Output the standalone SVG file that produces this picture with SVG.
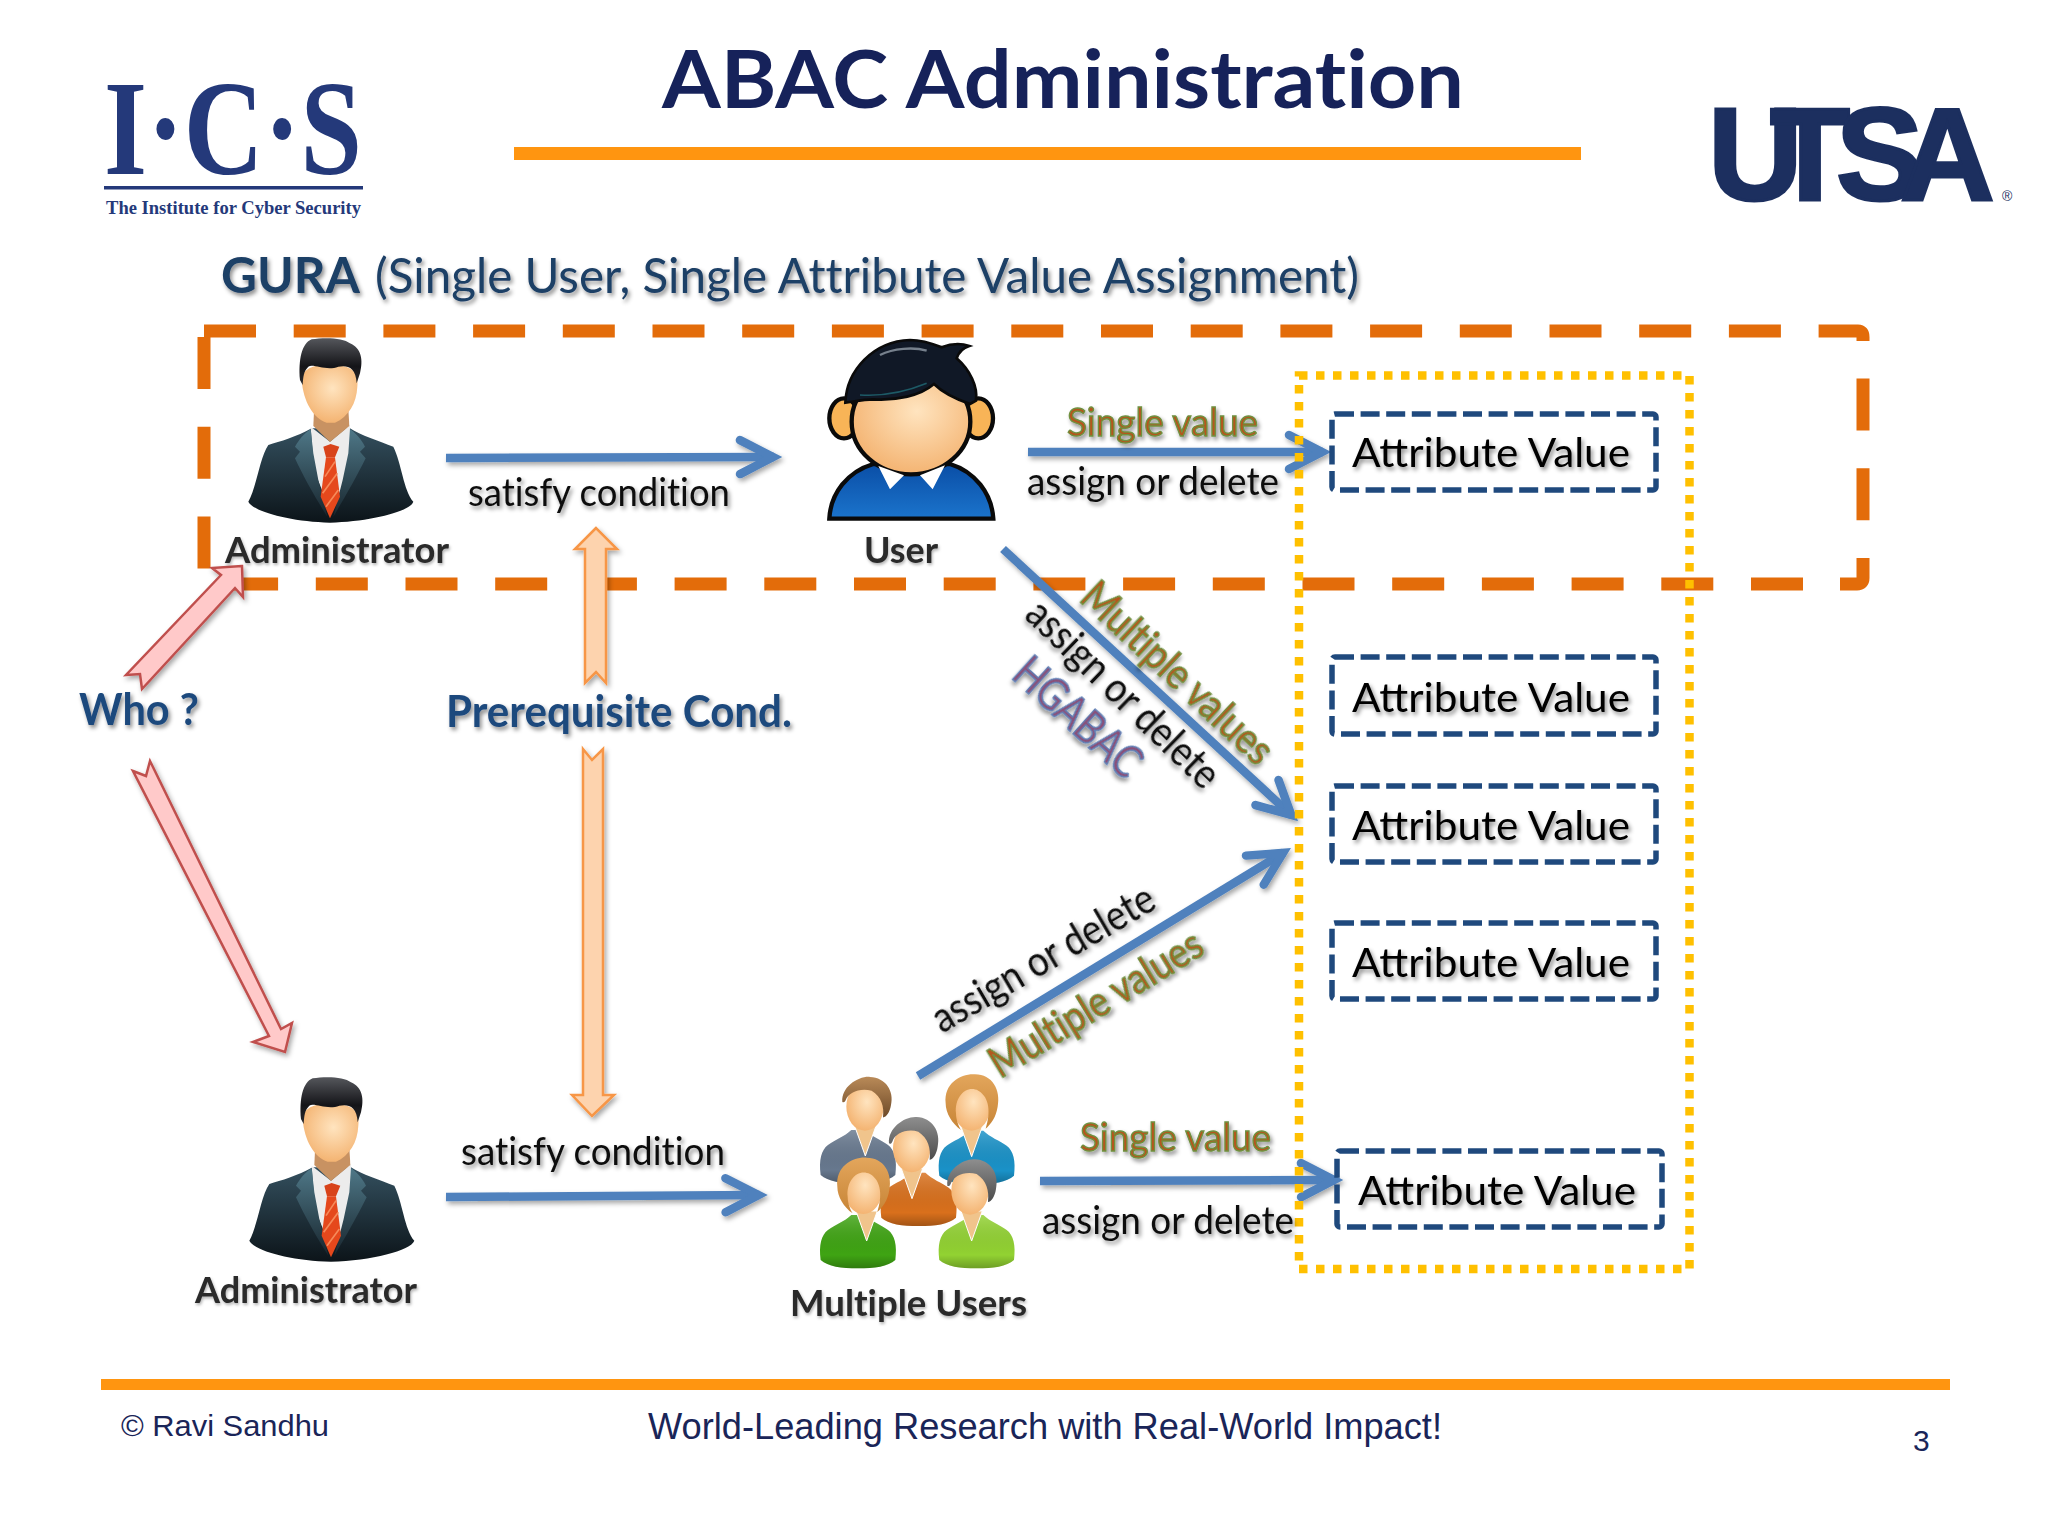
<svg xmlns="http://www.w3.org/2000/svg" xmlns:xlink="http://www.w3.org/1999/xlink" width="2048" height="1536" viewBox="0 0 2048 1536">
<style>
text{font-family:"Lato","Liberation Sans",sans-serif;font-variant-ligatures:none}
.lb{font-size:39px;fill:#111;filter:url(#ts)}
.lr{font-size:42px;fill:#111;filter:url(#ts)}
.nm{font-size:36px;font-weight:700;fill:#2a2a2a;filter:url(#ts2)}
.hd{font-size:43px;font-weight:700;fill:#1f497d;filter:url(#ts)}
.av{font-size:41px;fill:#000;filter:url(#ts);font-variant-ligatures:normal}
.wa{font-size:39px;fill:#b5561c;stroke:#6f9040;stroke-width:1.4px;filter:url(#ts)}
.wr{font-size:42px;fill:#b5561c;stroke:#6f9040;stroke-width:1.6px;filter:url(#ts)}
.ar{fill:none;stroke:#4f81bd;stroke-width:8.5px;marker-end:url(#chev);filter:url(#as)}
.box{fill:none;stroke:#1f497d;stroke-width:5.5px;stroke-dasharray:19 6.6}
.red{fill:#ffc9c9;stroke:#c0504d;stroke-width:2.5px;filter:url(#as)}
.org{fill:#fdd3ae;stroke:#f79646;stroke-width:2.5px;filter:url(#as)}
.bar{fill:#ff9510}
.ft{font-family:"Liberation Sans",sans-serif;fill:#1a2558}
.face{fill:url(#fg)}
.shade{fill:url(#sh)}
.frm{fill:none;stroke:#e36c0a;stroke-width:13px;stroke-dasharray:52 37.7}
</style>
<defs>
<filter id="ts" x="-10%" y="-30%" width="120%" height="170%"><feDropShadow dx="2" dy="3" stdDeviation="2" flood-color="#000" flood-opacity=".45"/></filter>
<filter id="ts2" x="-10%" y="-30%" width="120%" height="170%"><feDropShadow dx="1" dy="2" stdDeviation="1.5" flood-color="#000" flood-opacity=".3"/></filter>
<filter id="as" filterUnits="userSpaceOnUse" x="0" y="0" width="2048" height="1536"><feDropShadow dx="2" dy="3" stdDeviation="2.5" flood-color="#000" flood-opacity=".35"/></filter>
<marker id="chev" markerUnits="userSpaceOnUse" viewBox="-42 -24 54 48" refX="1" refY="0" markerWidth="54" markerHeight="48" orient="auto"><path d="M-33 -17L0 0L-33 17" fill="none" stroke="#4f81bd" stroke-width="8.5" stroke-linecap="round"/></marker>
<linearGradient id="suit" x1="0" y1="0" x2="0" y2="1"><stop offset="0" stop-color="#34505f"/><stop offset="1" stop-color="#0c1419"/></linearGradient>
<linearGradient id="lap" x1="0" y1="0" x2="0" y2="1"><stop offset="0" stop-color="#4f7888"/><stop offset="1" stop-color="#18262e"/></linearGradient>
<linearGradient id="hair" x1="0" y1="0" x2="0" y2="1"><stop offset="0" stop-color="#55575c"/><stop offset=".6" stop-color="#141418"/><stop offset="1" stop-color="#2a2a2e"/></linearGradient>
<radialGradient id="fg" cx=".55" cy=".4" r=".65"><stop offset="0" stop-color="#ffe4bf"/><stop offset="1" stop-color="#f3b06c"/></radialGradient>
<linearGradient id="sh" x1="0" y1="0" x2="0" y2="1"><stop offset="0" stop-color="#fff" stop-opacity=".18"/><stop offset=".75" stop-color="#000" stop-opacity="0"/><stop offset="1" stop-color="#000" stop-opacity=".25"/></linearGradient>
<linearGradient id="ublue" x1="0" y1="0" x2="0" y2="1"><stop offset="0" stop-color="#0a4ea6"/><stop offset="1" stop-color="#1b74cc"/></linearGradient>
<linearGradient id="blond" x1="0" y1="0" x2="0" y2="1"><stop offset="0" stop-color="#e3a65c"/><stop offset="1" stop-color="#c78436"/></linearGradient>
<linearGradient id="gray" x1="0" y1="0" x2="0" y2="1"><stop offset="0" stop-color="#8e8e8e"/><stop offset="1" stop-color="#4c4c4c"/></linearGradient>
<linearGradient id="brown" x1="0" y1="0" x2="0" y2="1"><stop offset="0" stop-color="#b98a58"/><stop offset="1" stop-color="#6e4a28"/></linearGradient>
<path id="pb" d="M-112 135C-118 90-110 60-90 45C-70 30-40 20-20 0L20 0C40 20 70 30 90 45C110 60 118 90 112 135C90 155 50 160 0 160C-50 160-90 155-112 135Z"/>
<path id="pn" d="M-32 -12L0 78L32 -12Z" fill="#f0c48c" stroke="#fff" stroke-width="3"/>
<path id="hb" d="M-78 -10C-84 -72-30 -100 10 -97C62 -97 88 -50 78 0C73 32 58 52 42 66C57 20 55 -28 20 -48C-15 -66-52 -30-47 20C-47 42-37 62-32 70C-58 52-78 20-78 -10Z"/>
<path id="hg" d="M-68 -15C-72 -62-20 -97 15 -94C62 -92 88 -50 78 -5C75 17 64 34 54 34C58 0 50 -30 20 -50C-15 -60-50 -45-58 -20C-60 -15-64 -12-68 -15Z"/>
<g id="admin">
<path d="M85 515C110 470 120 380 145 345C180 335 230 320 275 295L390 295C420 315 480 335 520 350C545 400 550 480 580 515C570 545 450 575 330 578C210 575 100 545 85 515Z" fill="url(#suit)"/>
<path d="M272 290L330 335L390 285L390 345L380 450L330 540L290 440L278 370Z" fill="#ececec"/>
<path d="M272 297C240 320 232 340 225 350L240 365L225 385C250 440 290 510 322 560L295 450L280 370Z" fill="url(#lap)"/>
<path d="M390 297C420 320 430 340 435 350L420 365L437 385C410 440 370 510 340 560L368 450L385 370Z" fill="url(#lap)"/>
<path d="M310 350L332 342L358 350L345 382L318 382Z" fill="#d8431a"/>
<path d="M318 382L345 382L360 500L330 565L302 500Z" fill="#e5481c"/>
<path d="M315 440L345 395M308 490L352 430M318 530L355 480" stroke="#f58a5a" stroke-width="5" fill="none"/>
<path d="M282 245L280 288L330 336L388 288L385 235Z" fill="#c89262"/>
<path d="M245 150C245 110 300 100 330 110C380 100 420 120 412 170C410 220 385 260 345 278L320 278C280 265 250 215 245 150Z" class="face"/>
<path d="M240 150C235 90 245 40 275 28C310 22 370 22 390 40C425 55 430 90 420 130L410 160C408 110 380 105 355 110C320 125 280 100 265 110C250 125 250 140 248 165Z" fill="url(#hair)"/>
</g>
</defs>
<rect width="2048" height="1536" fill="#fff"/>

<g id="logo-ics" fill="#24397a">
<text x="233" y="174" text-anchor="middle" font-size="136" font-weight="700" textLength="258" lengthAdjust="spacingAndGlyphs" style="font-family:'Liberation Serif',serif">I·C·S</text>
<rect x="104" y="186" width="259" height="3.5"/>
<text x="106" y="214" font-size="18" font-weight="700" textLength="255" lengthAdjust="spacingAndGlyphs" style="font-family:'Liberation Serif',serif">The Institute for Cyber Security</text>
</g>
<g id="logo-utsa" fill="#1c2f5f" stroke="#1c2f5f">
<text x="1708 1770 1836 1900" y="200" font-size="131" font-weight="700" stroke-width="3" style="font-family:'Liberation Sans',sans-serif">UTSA</text>
<text x="2002" y="201" font-size="14" stroke="none" style="font-family:'Liberation Sans',sans-serif">®</text>
</g>
<g id="title">
<text x="662" y="108" font-size="80" font-weight="700" fill="#16225a" textLength="802" lengthAdjust="spacingAndGlyphs">ABAC Administration</text>
<rect class="bar" x="514" y="147" width="1067" height="13"/>
</g>
<g id="subtitle" fill="#1f3f66" filter="url(#ts)">
<text x="221" y="293" font-size="49" font-weight="700" textLength="139" lengthAdjust="spacingAndGlyphs">GURA</text>
<text x="375" y="293" font-size="48" textLength="984" lengthAdjust="spacingAndGlyphs">(Single User, Single Attribute Value Assignment)</text>
</g>

<g id="single-user-frame">
<path class="frm" d="M204 331H1858Q1863 331 1863 337V578Q1863 584 1857 584H1840"/>
<path class="frm" d="M1803 584H204V331"/>
</g>

<use id="admin-top" xlink:href="#admin" href="#admin" transform="translate(220 330) scale(.3333)"/>
<use id="admin-bottom" xlink:href="#admin" href="#admin" transform="translate(221 1069) scale(.3333)"/>

<g id="user" transform="translate(810 330) scale(.3333)" stroke="#0a0a0a" stroke-width="13">
<path d="M58 566C62 490 112 425 190 402L420 402C495 425 545 490 550 566Z" fill="url(#ublue)"/>
<ellipse cx="102" cy="265" rx="44" ry="60" fill="#f8b457"/>
<ellipse cx="505" cy="265" rx="44" ry="60" fill="#f8b457"/>
<ellipse cx="303" cy="275" rx="178" ry="158" class="face"/>
<path d="M205 408L240 478L282 436Z M330 436L368 478L405 406Z" fill="#fff" stroke="none"/>
<path d="M106 218C110 120 190 34 300 30C340 30 370 42 395 52C420 42 450 38 478 48C455 55 445 70 440 85C480 120 504 170 498 212L480 222C440 208 400 190 372 162C330 198 260 212 190 208C160 208 130 215 106 218Z" fill="#101826" stroke-width="8"/>
<path d="M150 195C230 200 290 185 350 160" fill="none" stroke="#1d5a66" stroke-width="5"/>
<path d="M210 75C250 55 310 50 350 62" fill="none" stroke="#76808c" stroke-width="7"/>
</g>

<g id="multiple-users" transform="translate(800 1060) scale(.3333)">
<g transform="translate(174 210)"><use href="#pb" fill="#67788e"/><use href="#pb" class="shade"/><use href="#pn" x="22"/></g>
<g transform="translate(195 140)"><ellipse rx="56" ry="72" class="face"/><use href="#hg" fill="url(#brown)" transform="scale(1 .95)"/></g>
<g transform="translate(530 212)"><use href="#pb" fill="#1a92c8"/><use href="#pb" class="shade"/><use href="#pn" x="-15"/></g>
<g transform="translate(515 140)"><ellipse rx="56" ry="72" class="face"/><use href="#hb" fill="url(#blond)"/></g>
<g transform="translate(356 338)"><use href="#pb" fill="#d9701c"/><use href="#pb" class="shade"/><use href="#pn" x="-20"/></g>
<g transform="translate(335 265)"><ellipse rx="56" ry="72" class="face"/><use href="#hg" fill="url(#gray)"/></g>
<g transform="translate(174 465)"><use href="#pb" fill="#3fa413"/><use href="#pb" class="shade"/><use href="#pn" x="26"/></g>
<g transform="translate(190 390)"><ellipse rx="56" ry="72" class="face"/><use href="#hb" fill="url(#blond)"/></g>
<g transform="translate(530 465)"><use href="#pb" fill="#92d232"/><use href="#pb" class="shade"/><use href="#pn" x="-15"/></g>
<g transform="translate(510 392)"><ellipse rx="56" ry="72" class="face"/><use href="#hg" fill="url(#gray)"/></g>
</g>

<g id="connectors">
<path class="ar" d="M446 458L774 457"/>
<path class="ar" d="M1028 452H1323"/>
<path class="ar" d="M1003 549L1292 815.6"/>
<path class="ar" d="M918 1076L1283.9 852.4"/>
<path class="ar" d="M446 1197L759.5 1195"/>
<path class="ar" d="M1040 1181L1335 1180"/>
<polygon class="red" points="242,566 212,568 221,575 126,675 140,674 142,689 235,588 243,597"/>
<polygon class="red" points="133,771 146,776 150,761 281,1029 292,1023 285,1052 253,1042 269,1036"/>
<polygon class="org" points="596,528 575,549 585,549 585,683 596,672 606,683 606,549 617,549"/>
<polygon class="org" points="583,749 592,760 603,749 603,1095 614,1095 592,1116 572,1095 583,1095"/>
</g>

<g id="values-frame"><rect x="1299" y="375.5" width="390.500" height="893.500" fill="none" stroke="#ffc000" stroke-width="8.500" stroke-dasharray="8.500 8.500"/></g>

<g id="value-1"><rect class="box" x="1332" y="414" width="324" height="76" rx="3"/><text class="av" x="1352" y="467" textLength="278" lengthAdjust="spacingAndGlyphs">Attribute Value</text></g>
<g id="value-2"><rect class="box" x="1332" y="657" width="324" height="77" rx="3"/><text class="av" x="1352" y="712" textLength="278" lengthAdjust="spacingAndGlyphs">Attribute Value</text></g>
<g id="value-3"><rect class="box" x="1332" y="786" width="324" height="76" rx="3"/><text class="av" x="1352" y="840" textLength="278" lengthAdjust="spacingAndGlyphs">Attribute Value</text></g>
<g id="value-4"><rect class="box" x="1332" y="923" width="324" height="76" rx="3"/><text class="av" x="1352" y="977" textLength="278" lengthAdjust="spacingAndGlyphs">Attribute Value</text></g>
<g id="value-5"><rect class="box" x="1337" y="1151" width="325" height="76" rx="3"/><text class="av" x="1358" y="1205" textLength="278" lengthAdjust="spacingAndGlyphs">Attribute Value</text></g>

<g id="labels">
<text class="nm" x="225" y="563" textLength="224" lengthAdjust="spacingAndGlyphs">Administrator</text>
<text class="nm" x="195" y="1303" textLength="222" lengthAdjust="spacingAndGlyphs">Administrator</text>
<text class="nm" x="864" y="563" textLength="74" lengthAdjust="spacingAndGlyphs">User</text>
<text class="nm" x="790" y="1316" textLength="237" lengthAdjust="spacingAndGlyphs">Multiple Users</text>
<text class="hd" x="79" y="725" textLength="120" lengthAdjust="spacingAndGlyphs">Who ?</text>
<text class="hd" x="446" y="727" textLength="346" lengthAdjust="spacingAndGlyphs">Prerequisite Cond.</text>
<text class="lb" x="468" y="506" textLength="262" lengthAdjust="spacingAndGlyphs">satisfy condition</text>
<text class="lb" x="461" y="1165" textLength="264" lengthAdjust="spacingAndGlyphs">satisfy condition</text>
<text class="wa" x="1067" y="436" textLength="191" lengthAdjust="spacingAndGlyphs">Single value</text>
<text class="lb" x="1027" y="495" textLength="252" lengthAdjust="spacingAndGlyphs">assign or delete</text>
<text class="wa" x="1080" y="1151" textLength="191" lengthAdjust="spacingAndGlyphs">Single value</text>
<text class="lb" x="1042" y="1234" textLength="252" lengthAdjust="spacingAndGlyphs">assign or delete</text>
<text class="wr" transform="translate(1078 600) rotate(43)" textLength="245" lengthAdjust="spacingAndGlyphs">Multiple values</text>
<text class="lr" transform="translate(1023 617) rotate(44)" textLength="251" lengthAdjust="spacingAndGlyphs">assign or delete</text>
<text transform="translate(1010 677) rotate(42)" font-size="46" fill="#8a4f78" stroke="#5f7fb5" stroke-width="1.6" filter="url(#ts)" textLength="155" lengthAdjust="spacingAndGlyphs">HGABAC</text>
<text class="lr" transform="translate(942 1034) rotate(-30.300)" textLength="251" lengthAdjust="spacingAndGlyphs">assign or delete</text>
<text class="wr" transform="translate(1000 1079) rotate(-31.400)" textLength="242" lengthAdjust="spacingAndGlyphs">Multiple values</text>
</g>

<g id="footer">
<rect class="bar" x="101" y="1379" width="1849" height="11"/>
<text class="ft" x="121" y="1436" font-size="30" textLength="208" lengthAdjust="spacingAndGlyphs">© Ravi Sandhu</text>
<text class="ft" x="648" y="1439" font-size="37" textLength="794" lengthAdjust="spacingAndGlyphs">World-Leading Research with Real-World Impact!</text>
<text class="ft" x="1913" y="1451" font-size="30">3</text>
</g>
</svg>
